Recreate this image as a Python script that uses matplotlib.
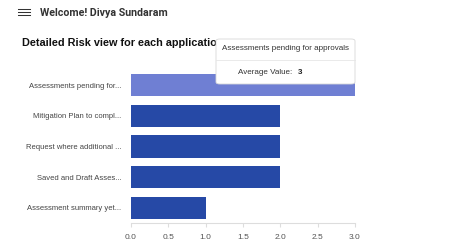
import matplotlib.pyplot as plt
from matplotlib.patches import FancyBboxPatch

categories = [
    "Assessments pending for...",
    "Mitigation Plan to compl...",
    "Request where additional ...",
    "Saved and Draft Asses...",
    "Assessment summary yet...",
]
values = [3, 2, 2, 2, 1]
xticks = [0.0, 0.5, 1.0, 1.5, 2.0, 2.5, 3.0]
tooltip_title = "Assessments pending for approvals"
tooltip_value = values[0]

W, H = 474, 249
fig = plt.figure(figsize=(W / 100, H / 100), dpi=100)
fig.patch.set_facecolor("white")
plt.rcParams["font.family"] = ["Liberation Sans", "DejaVu Sans"]


def fx(px):
    return px / W


def fy(py):
    return 1 - py / H


# plot area
ax = fig.add_axes([fx(131), fy(223), fx(355) - fx(131), fy(70) - fy(223)])
colors = ["#6f7fd3"] + ["#2649a6"] * (len(values) - 1)
ax.barh(range(len(values)), values, height=0.72, color=colors, zorder=2)
ax.set_ylim(len(values) - 0.5, -0.5)
ax.set_xlim(0, 3)
ax.set_yticks(range(len(categories)))
ax.set_yticklabels(categories, fontsize=5.5, color="#444444")
ax.set_xticks(xticks)
ax.set_xticklabels([f"{t:.1f}" for t in xticks], fontsize=6.0, color="#555555")
ax.tick_params(axis="y", length=0, pad=7)
ax.tick_params(axis="x", length=3, color="#dddddd", pad=5)
for s in ["top", "right", "left"]:
    ax.spines[s].set_visible(False)
ax.spines["bottom"].set_color("#dddddd")
ax.spines["bottom"].set_linewidth(0.8)

# header
for py in (9.5, 12.5, 15.5):
    fig.add_artist(plt.Line2D([fx(18), fx(30)], [fy(py), fy(py)],
                              color="#333333", lw=0.75))
fig.text(fx(40), fy(12.5), "Welcome! Divya Sundaram", fontsize=7.7,
         fontweight="bold", color="#333333", va="center", ha="left",
         family="Roboto")
fig.text(fx(22), fy(42.5), "Detailed Risk view for each application",
         fontsize=7.8, fontweight="bold", color="#111111", va="center",
         ha="left", zorder=1)

# tooltip
box = FancyBboxPatch((fx(216), fy(84)), fx(355) - fx(216), fy(39) - fy(84),
                     boxstyle="round,pad=0,rounding_size=0.008",
                     transform=fig.transFigure, facecolor="white",
                     edgecolor="#d8d8d8", lw=0.6, zorder=10)
fig.add_artist(box)
fig.add_artist(plt.Line2D([fx(216), fx(355)], [fy(60), fy(60)],
                          color="#e6e6e6", lw=0.6, zorder=11))
fig.text(fx(286), fy(49), tooltip_title, fontsize=5.8, color="#333333",
         ha="center", va="center", zorder=12)
fig.text(fx(238), fy(73), "Average Value:", fontsize=5.8, color="#333333",
         ha="left", va="center", zorder=12)
fig.text(fx(298), fy(73), str(tooltip_value), fontsize=5.8, color="#222222",
         fontweight="bold", ha="left", va="center", zorder=12)

fig.savefig("out.png", dpi=100)
